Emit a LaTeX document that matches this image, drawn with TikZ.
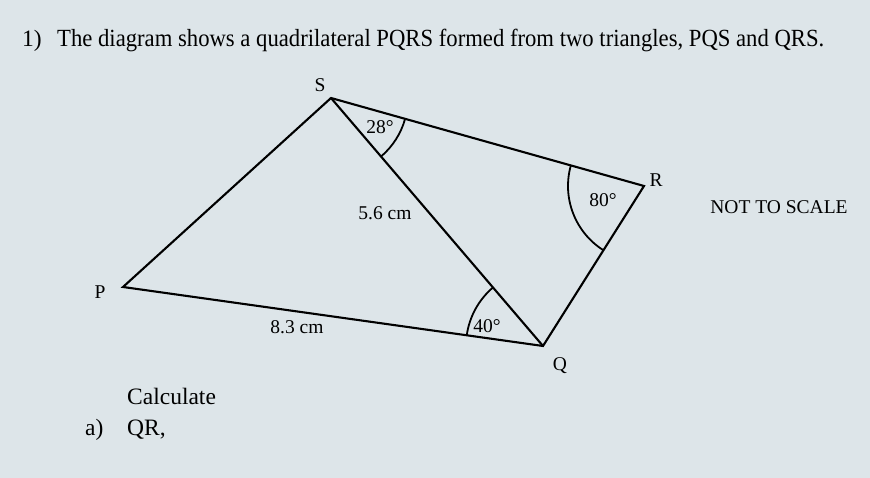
\documentclass[tikz,border=0pt]{standalone}
\usepackage{fontspec}
\setmainfont{Liberation Serif}
\definecolor{bgpaper}{HTML}{DDE5E9}
\begin{document}
\begin{tikzpicture}[x=1pt,y=1pt,
  edge/.style={line width=2.1pt,line join=miter},
  anglearc/.style={line width=1.8pt},
  lbl/.style={inner sep=0pt,font=\fontsize{19.5}{22}\selectfont},
  txt/.style={inner sep=0pt,anchor=base west,font=\fontsize{23.5}{27}\selectfont}]
\fill[bgpaper] (0,0) rectangle (870,478);
\useasboundingbox (0,0) rectangle (870,478);
% vertices
\coordinate (S) at (331,380);
\coordinate (R) at (644,292);
\coordinate (Q) at (543,132);
\coordinate (P) at (123,191);
% edges
\draw[edge] (P) -- (S) -- (R) -- (Q) -- cycle;
\draw[edge] (S) -- (Q);
% angle arcs
\draw[anglearc] ([shift={(-49.5:77)}]S) arc[start angle=-49.5,end angle=-15.7,radius=77];
\draw[anglearc] ([shift={(164.3:76)}]R) arc[start angle=164.3,end angle=237.7,radius=76];
\draw[anglearc] ([shift={(130.5:77)}]Q) arc[start angle=130.5,end angle=172,radius=77];
% vertex labels
\node[lbl] (lS) at (320,393) {S};
\node[lbl] (lR) at (656,298) {R};
\node[lbl] (lQ) at (560,112) {Q};
\node[lbl] (lP) at (100,186) {P};
% angle and length labels
\node[lbl] (a28) at (380,351) {28°};
\node[lbl] (a80) at (603,278) {80°};
\node[lbl] (a40) at (487,152) {40°};
\node[lbl] (l56) at (385,265) {5.6 cm};
\node[lbl] (l83) at (297,151) {8.3 cm};
\node[lbl] (nts) at (779,271) {NOT TO SCALE};
% text
\node[txt] (num) at (22,431) {1)};
\node[txt,xscale=0.965,yscale=1.05,transform shape] (head) at (57,431) {The diagram shows a quadrilateral PQRS formed from two triangles, PQS and QRS.};
\node[txt] (calc) at (127,73) {Calculate};
\node[txt] (pa) at (85,42) {a)};
\node[txt] (qr) at (127,42) {QR,};
\end{tikzpicture}
\end{document}
